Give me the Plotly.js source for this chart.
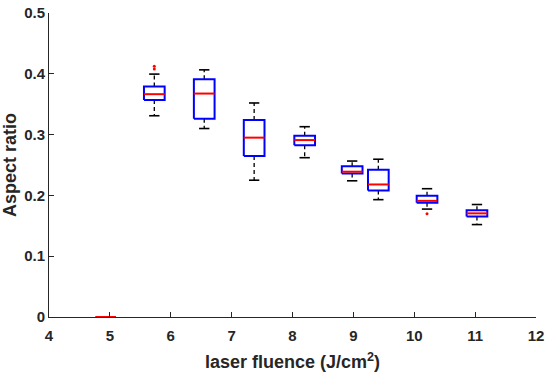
<!DOCTYPE html>
<html>
<head>
<meta charset="utf-8">
<script src="https://cdn.plot.ly/plotly-3.0.1.min.js"></script>
<style>html,body{margin:0;padding:0;background:#fff;}#chart{width:550px;height:375px;}</style>
</head>
<body>
<div id="chart"></div>
<script>
// Fluence positions (J/cm^2) and box statistics of aspect ratio
const fluence      = [4.93, 5.73, 6.55, 7.37, 8.20, 8.98, 9.41, 10.21, 11.03];
const lowerWhisker = [0, 0.331, 0.310, 0.225, 0.262, 0.224, 0.193, 0.1775, 0.152];
const q1           = [0, 0.357, 0.326, 0.265, 0.2825, 0.236, 0.208, 0.188, 0.1655];
const median       = [0, 0.3665, 0.3675, 0.295, 0.291, 0.239, 0.218, 0.191, 0.1705];
const q3           = [0, 0.379, 0.391, 0.324, 0.298, 0.248, 0.242, 0.1995, 0.1755];
const upperWhisker = [0, 0.3995, 0.4065, 0.352, 0.313, 0.2565, 0.2595, 0.211, 0.185];
const outlierX     = [5.73, 5.73, 10.21];
const outlierY     = [0.4125, 0.408, 0.170];
const xTicks = [4, 5, 6, 7, 8, 9, 10, 11, 12];
const yTicks = [0, 0.1, 0.2, 0.3, 0.4, 0.5];

const halfW = 0.17;   // half box width in data units
const capW = 0.085;   // half cap width

const boxX = [], boxY = [], medX = [], medY = [], whX = [], whY = [], capX = [], capY = [];
fluence.forEach((x, i) => {
  if (q3[i] > q1[i]) {
    boxX.push(x - halfW, x + halfW, x + halfW, x - halfW, x - halfW, null);
    boxY.push(q1[i], q1[i], q3[i], q3[i], q1[i], null);
    whX.push(x, x, null, x, x, null);
    whY.push(q3[i], upperWhisker[i], null, q1[i], lowerWhisker[i], null);
    capX.push(x - capW, x + capW, null, x - capW, x + capW, null);
    capY.push(upperWhisker[i], upperWhisker[i], null, lowerWhisker[i], lowerWhisker[i], null);
  } else {
    boxX.push(x + halfW - 0.02, x + halfW, null);
    boxY.push(q1[i], q1[i], null);
  }
  medX.push(x - halfW, x + halfW, null);
  medY.push(median[i], median[i], null);
});

const traces = [
  {x: whX, y: whY, mode: 'lines', line: {color: '#000', width: 1.3, dash: '4px,3px'}, hoverinfo: 'skip'},
  {x: capX, y: capY, mode: 'lines', line: {color: '#000', width: 1.6}, hoverinfo: 'skip'},
  {x: boxX, y: boxY, mode: 'lines', line: {color: '#0000ff', width: 2}, hoverinfo: 'skip'},
  {x: medX, y: medY, mode: 'lines', line: {color: '#ff0000', width: 2}, hoverinfo: 'skip', cliponaxis: false},
  {x: outlierX, y: outlierY, mode: 'markers', marker: {color: '#ff0000', size: 3, symbol: 'circle', line: {width: 0}}, hoverinfo: 'skip'}
];

const fam = 'Liberation Sans, Arial, sans-serif';
const axisFont = {family: fam, size: 15, color: '#262626', weight: 'bold'};
const titleFont = {family: fam, size: 18, color: '#262626', weight: 'bold'};
const layout = {
  width: 550, height: 375,
  margin: {l: 49, r: 14, t: 13, b: 58},
  showlegend: false,
  paper_bgcolor: '#fff', plot_bgcolor: '#fff',
  xaxis: {
    range: [4, 12], tickvals: xTicks, ticktext: xTicks.map(String),
    ticks: 'inside', ticklen: 5, tickcolor: '#262626', tickwidth: 1,
    showline: true, linecolor: '#262626', linewidth: 1, showgrid: false, zeroline: false,
    tickfont: axisFont, automargin: false, ticklabelstandoff: 5,
    title: {text: 'laser fluence (J/cm<sup>2</sup>)', font: titleFont, standoff: 12}
  },
  yaxis: {
    range: [0, 0.5], tickvals: yTicks, ticktext: yTicks.map(v => String(v)),
    ticks: 'inside', ticklen: 5, tickcolor: '#262626', tickwidth: 1,
    showline: true, linecolor: '#262626', linewidth: 1, showgrid: false, zeroline: false,
    tickfont: axisFont, automargin: false,
    title: {text: 'Aspect ratio', font: titleFont, standoff: 4}
  }
};

Plotly.newPlot('chart', traces, layout, {staticPlot: true, displayModeBar: false});
</script>
</body>
</html>
